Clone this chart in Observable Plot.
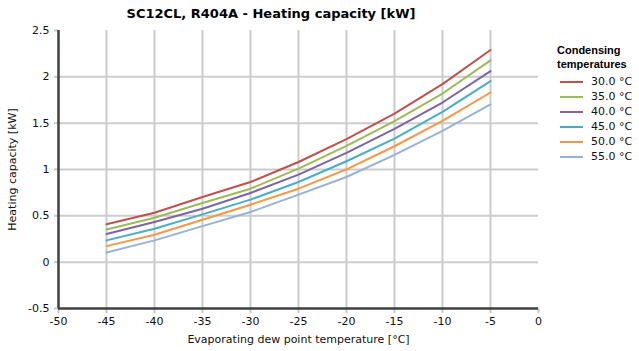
<!DOCTYPE html>
<html>
<head>
<meta charset="utf-8">
<script src="https://cdn.jsdelivr.net/npm/d3@7"></script>
<script src="https://cdn.jsdelivr.net/npm/@observablehq/plot@0.6"></script>
<style>
  body { margin: 0; background: #fff; }
  #wrap { position: relative; width: 639px; height: 351px; font-family: "DejaVu Sans", Verdana, sans-serif; }
  #wrap svg { position: absolute; left: 0; top: 0; }
  #title { position: absolute; left: 0; width: 542px; top: 6px; text-align: center; font-size: 13px; font-weight: bold; color: #000; }
  #legend { position: absolute; left: 557px; top: 43px; font-size: 11px; color: #111; }
  #legend .lt { font-family: "Liberation Sans", Arial, sans-serif; font-weight: bold; font-size: 11px; line-height: 14px; margin-bottom: 3px; color: #000; }
  #legend .row { display: flex; align-items: center; height: 15px; }
  #legend .sw { width: 23px; height: 2px; margin-left: 3px; margin-right: 8px; }
</style>
</head>
<body>
<div id="wrap">
  <div id="title"></div>
  <div id="legend"></div>
</div>
<script>
const chartTitle = "SC12CL, R404A - Heating capacity [kW]";
const xLabel = "Evaporating dew point temperature [°C]";
const yLabel = "Heating capacity [kW]";
const legendTitle = ["Condensing", "temperatures"];

const evapTemps = [-45, -40, -35, -30, -25, -20, -15, -10, -5];
const seriesNames = ["30.0 °C", "35.0 °C", "40.0 °C", "45.0 °C", "50.0 °C", "55.0 °C"];
const seriesColors = ["#c0504d", "#9bbb59", "#8064a2", "#4bacc6", "#f79646", "#95b3d7"];

const cap30 = [0.410, 0.534, 0.703, 0.865, 1.081, 1.327, 1.604, 1.921, 2.289];
const cap35 = [0.353, 0.480, 0.638, 0.793, 1.009, 1.254, 1.521, 1.820, 2.177];
const cap40 = [0.303, 0.433, 0.577, 0.746, 0.945, 1.179, 1.438, 1.723, 2.062];
const cap45 = [0.235, 0.361, 0.516, 0.675, 0.865, 1.089, 1.334, 1.622, 1.954];
const cap50 = [0.173, 0.296, 0.458, 0.620, 0.793, 1.002, 1.251, 1.524, 1.831];
const cap55 = [0.105, 0.235, 0.389, 0.541, 0.729, 0.919, 1.157, 1.416, 1.702];

const xTicks = [-50, -45, -40, -35, -30, -25, -20, -15, -10, -5, 0];
const yTicks = [-0.5, 0, 0.5, 1, 1.5, 2, 2.5];
const xGrid = [-45, -40, -35, -30, -25, -20, -15, -10, -5];
const yGrid = [0, 0.5, 1, 1.5, 2];

const allSeries = [cap30, cap35, cap40, cap45, cap50, cap55];
const rows = [];
allSeries.forEach((vals, i) => {
  vals.forEach((v, j) => rows.push({ series: seriesNames[i], t: evapTemps[j], cap: v }));
});

const xDomain = [xTicks[0], xTicks[xTicks.length - 1]];
const yDomain = [yTicks[0], yTicks[yTicks.length - 1]];

const chart = Plot.plot({
  width: 639,
  height: 351,
  marginLeft: 58,
  marginRight: 101,
  marginTop: 30,
  marginBottom: 43,
  style: { fontFamily: "DejaVu Sans, Verdana, sans-serif", fontSize: "11px", color: "#111", background: "transparent" },
  x: { domain: xDomain },
  y: { domain: yDomain },
  color: { domain: seriesNames, range: seriesColors },
  marks: [
    Plot.ruleX(xGrid, { y1: yDomain[0], y2: yDomain[1], stroke: "#cccccc", strokeWidth: 2 }),
    Plot.ruleY(yGrid, { x1: xDomain[0], x2: xDomain[1], stroke: "#cccccc", strokeWidth: 2 }),
    Plot.axisX({ ticks: xTicks, tickSize: 5, tickPadding: 4, tickFormat: d => String(d), stroke: "#c8c8c8", strokeWidth: 2, fill: "#111",
      label: xLabel, labelAnchor: "center", labelArrow: "none", labelOffset: 34 }),
    Plot.axisY({ ticks: yTicks, tickSize: 4, tickPadding: 5, tickFormat: d => String(d), stroke: "#c8c8c8", strokeWidth: 2, fill: "#111",
      label: yLabel, labelAnchor: "center", labelArrow: "none", labelOffset: 50 }),
    Plot.line(rows, { x: "t", y: "cap", z: "series", stroke: "series", strokeWidth: 2 }),
    Plot.ruleX([xDomain[0]], { stroke: "#404040", strokeWidth: 2.5 }),
    Plot.ruleY([yDomain[0]], { stroke: "#404040", strokeWidth: 2.5 })
  ]
});
document.getElementById("wrap").prepend(chart);

document.getElementById("title").textContent = chartTitle;
const legend = document.getElementById("legend");
const lt = document.createElement("div");
lt.className = "lt";
lt.innerHTML = legendTitle.join("<br>");
legend.appendChild(lt);
seriesNames.forEach((name, i) => {
  const r = document.createElement("div");
  r.className = "row";
  const sw = document.createElement("span");
  sw.className = "sw";
  sw.style.background = seriesColors[i];
  const tx = document.createElement("span");
  tx.textContent = name;
  r.appendChild(sw);
  r.appendChild(tx);
  legend.appendChild(r);
});
</script>
</body>
</html>
